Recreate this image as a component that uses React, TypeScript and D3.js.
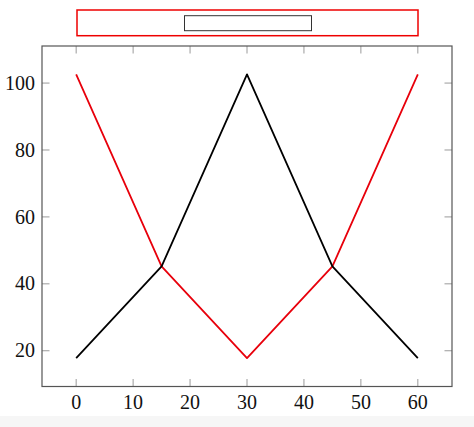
import React from "react";
import * as d3 from "d3";

const xValues = [0, 15, 30, 45, 60];
const blackSeries = [17.8, 45.2, 102.6, 45.2, 17.8];
const redSeries = [102.6, 45.2, 17.8, 45.2, 102.6];
const xTicks = [0, 10, 20, 30, 40, 50, 60];
const yTicks = [20, 40, 60, 80, 100];

const W = 474;
const H = 427;
const left = 42, right = 452, top = 46, bottom = 386.5;

export default function App() {
  const xMin = d3.min(xValues)!, xMax = d3.max(xValues)!;
  const all = [...blackSeries, ...redSeries];
  const yMin = d3.min(all)!, yMax = d3.max(all)!;
  const xe = (xMax - xMin) * 0.1;
  const ye = (yMax - yMin) * 0.1;
  const x = d3.scaleLinear().domain([xMin - xe, xMax + xe]).range([left, right]);
  const y = d3.scaleLinear().domain([yMin - ye, yMax + ye]).range([bottom, top]);
  const line = d3
    .line<number>()
    .x((_, i) => x(xValues[i]))
    .y((d) => y(d));
  const tl = 7.5;
  const font = "'Liberation Serif', 'DejaVu Serif', serif";
  return (
    <svg
      width={W}
      height={H}
      style={{ position: "absolute", left: 0, top: 0, background: "#fff" }}
    >
      <rect x={0} y={416} width={W} height={H - 416} fill="#f6f6f6" />
      {xTicks.map((t) => (
        <g key={"x" + t}>
          <line x1={x(t)} x2={x(t)} y1={bottom} y2={bottom - tl} stroke="#9a9a9a" strokeWidth={1} />
          <line x1={x(t)} x2={x(t)} y1={top} y2={top + tl} stroke="#9a9a9a" strokeWidth={1} />
          <text
            x={x(t)}
            y={408.5}
            textAnchor="middle"
            fontFamily={font}
            fontSize={20}
            fill="#111"
          >
            {t}
          </text>
        </g>
      ))}
      {yTicks.map((t) => (
        <g key={"y" + t}>
          <line x1={left} x2={left + tl} y1={y(t)} y2={y(t)} stroke="#9a9a9a" strokeWidth={1} />
          <line x1={right} x2={right - tl} y1={y(t)} y2={y(t)} stroke="#9a9a9a" strokeWidth={1} />
          <text
            x={35}
            y={y(t)}
            dy="0.33em"
            textAnchor="end"
            fontFamily={font}
            fontSize={20}
            fill="#111"
          >
            {t}
          </text>
        </g>
      ))}
      <path d={line(redSeries)!} fill="none" stroke="#e8000b" strokeWidth={1.8} strokeLinejoin="round" />
      <path d={line(blackSeries)!} fill="none" stroke="#000" strokeWidth={1.8} strokeLinejoin="round" />
      <rect
        x={left}
        y={top}
        width={right - left}
        height={bottom - top}
        fill="none"
        stroke="#555"
        strokeWidth={1.2}
      />
      <rect x={77} y={10} width={341} height={25.7} fill="#fff" stroke="#e00" strokeWidth={1.5} />
      <rect x={184.5} y={15.7} width={127} height={15} fill="#fff" stroke="#333" strokeWidth={1} />
    </svg>
  );
}
